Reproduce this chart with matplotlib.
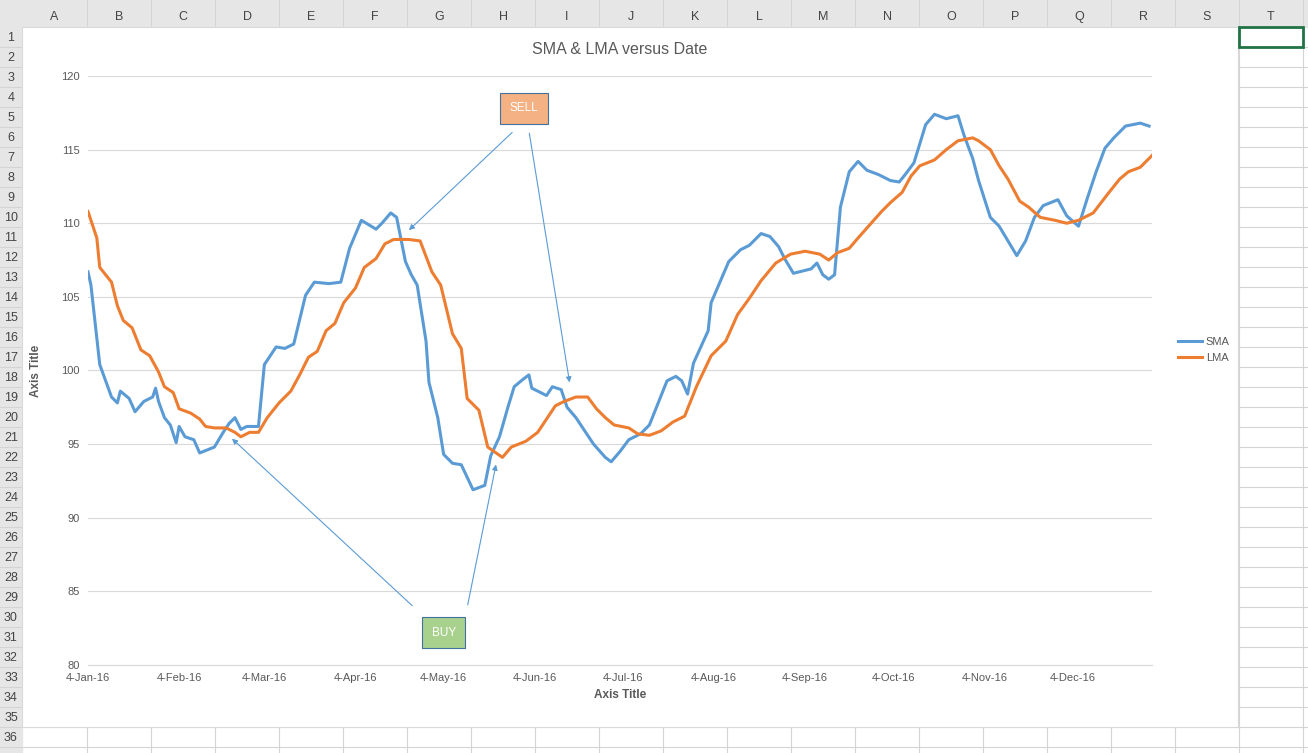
import matplotlib
matplotlib.use("Agg")
import matplotlib.pyplot as plt
from matplotlib.patches import Rectangle

plt.rcParams['font.family'] = ['Liberation Sans', 'DejaVu Sans']

title = "SMA & LMA versus Date"
month_labels = ["4-Jan-16", "4-Feb-16", "4-Mar-16", "4-Apr-16", "4-May-16", "4-Jun-16",
                "4-Jul-16", "4-Aug-16", "4-Sep-16", "4-Oct-16", "4-Nov-16", "4-Dec-16"]
month_days = [0, 31, 60, 91, 121, 152, 182, 213, 244, 274, 305, 335]  # days since 4-Jan-16

sma_days = [0,1,4,8,10,11,14,16,19,22,23,24,26,28,30,31,33,36,38,43,46,48,50,52,54,58,60,64,67,70,74,77,82,86,89,93,98,100,103,105,108,110,112,115,116,119,121,124,127,131,135,137,140,143,145,148,150,151,156,158,161,163,166,169,172,176,178,181,184,188,191,194,197,200,202,204,206,211,212,215,218,222,225,229,232,235,237,240,246,248,250,252,254,256,259,262,265,269,273,276,278,281,285,288,292,296,298,301,303,307,310,313,316,319,322,325,330,333,337,340,343,346,349,353,358,361]
sma_vals = [106.7,105.8,100.4,98.2,97.8,98.6,98.1,97.2,97.9,98.2,98.8,97.9,96.8,96.3,95.1,96.2,95.5,95.3,94.4,94.8,95.8,96.4,96.8,96.0,96.2,96.2,100.4,101.6,101.5,101.8,105.1,106.0,105.9,106.0,108.3,110.2,109.6,110.0,110.7,110.4,107.4,106.5,105.8,102.0,99.2,96.8,94.3,93.7,93.6,91.9,92.2,94.2,95.5,97.6,98.9,99.4,99.7,98.8,98.3,98.9,98.7,97.5,96.8,95.9,95.0,94.1,93.8,94.5,95.3,95.7,96.3,97.8,99.3,99.6,99.3,98.4,100.5,102.7,104.6,106.0,107.4,108.2,108.5,109.3,109.1,108.4,107.6,106.6,106.9,107.3,106.5,106.2,106.5,111.1,113.5,114.2,113.6,113.3,112.9,112.8,113.3,114.1,116.7,117.4,117.1,117.3,116.0,114.4,112.9,110.4,109.8,108.8,107.8,108.8,110.4,111.2,111.6,110.5,109.8,111.7,113.5,115.1,115.8,116.6,116.8,116.6]

lma_days = [0,3,4,8,10,12,15,18,21,24,26,29,31,35,38,40,43,47,50,52,55,58,61,65,69,72,75,78,81,84,87,91,94,98,101,104,109,113,117,120,124,127,129,133,136,141,144,149,153,156,159,162,166,170,173,176,179,184,187,191,195,199,203,207,212,217,221,225,229,234,239,244,249,252,255,259,262,266,270,273,277,280,283,288,292,296,301,303,307,310,313,317,320,324,329,333,337,342,347,351,354,358,362]
lma_vals = [110.8,109.0,107.0,106.0,104.4,103.4,102.9,101.4,101.0,99.9,98.9,98.5,97.4,97.1,96.7,96.2,96.1,96.1,95.8,95.5,95.8,95.8,96.8,97.8,98.6,99.7,100.9,101.3,102.7,103.2,104.6,105.6,107.0,107.6,108.6,108.9,108.9,108.8,106.7,105.8,102.5,101.5,98.1,97.3,94.8,94.1,94.8,95.2,95.8,96.7,97.6,97.9,98.2,98.2,97.4,96.8,96.3,96.1,95.7,95.6,95.9,96.5,96.9,98.9,101.0,102.0,103.8,104.9,106.1,107.3,107.9,108.1,107.9,107.5,108.0,108.3,109.0,109.9,110.8,111.4,112.1,113.2,113.9,114.3,115.0,115.6,115.8,115.6,115.0,113.9,113.0,111.5,111.1,110.4,110.2,110.0,110.2,110.7,112.0,113.0,113.5,113.8,114.6]

W, H = 1308, 753
fig = plt.figure(figsize=(W/100, H/100), dpi=100)

# spreadsheet background
bg = fig.add_axes([0, 0, 1, 1])
bg.set_xlim(0, W); bg.set_ylim(H, 0); bg.axis('off')
col_edges = [22] + [87 + 64*i for i in range(20)]
cols = "ABCDEFGHIJKLMNOPQRST"
bg.add_patch(Rectangle((0, 0), W, 27, color='#E6E6E6', zorder=0))
bg.add_patch(Rectangle((0, 0), 22, H, color='#E6E6E6', zorder=0))
for i, c in enumerate(cols):
    x0, x1 = col_edges[i], col_edges[i+1]
    bg.plot([x1, x1], [0, H], color='#D4D4D4', lw=0.8, zorder=1)
    bg.text((x0+x1)/2, 17, c, ha='center', va='center', fontsize=9, color='#444444')
for r in range(1, 38):
    y = 27 + 20*(r-1)
    bg.plot([0, W], [y+20, y+20], color='#D4D4D4', lw=0.8, zorder=1)
    if r <= 36:
        bg.text(11, y+11, str(r), ha='center', va='center', fontsize=9, color='#444444')
bg.add_patch(Rectangle((1239, 27), 64, 20, fill=False, ec='#217346', lw=2, zorder=5))
bg.add_patch(Rectangle((22, 27), 1216, 700, color='white', ec='#D9D9D9', lw=0.8, zorder=3))

# chart
ax = fig.add_axes([88/W, 1-665/H, (1152-88)/W, (665-76)/H])
ax.set_zorder(4)
ax.plot(sma_days, sma_vals, color='#5B9BD5', lw=2.2, label='SMA')
ax.plot(lma_days, lma_vals, color='#ED7D31', lw=2.2, label='LMA')
ax.set_xlim(0, 362)
ax.set_ylim(80, 120)
ax.set_yticks(range(80, 121, 5))
ax.set_xticks(month_days)
ax.set_xticklabels(month_labels)
ax.grid(axis='y', color='#D9D9D9', lw=0.8)
ax.set_axisbelow(True)
for s in ['top', 'right', 'left']:
    ax.spines[s].set_visible(False)
ax.spines['bottom'].set_color('#D9D9D9')
ax.tick_params(length=0, labelsize=8, colors='#595959', pad=6)
ax.set_xlabel('Axis Title', fontsize=8.5, color='#595959', fontweight='bold')
ax.set_ylabel('Axis Title', fontsize=8.5, color='#595959', fontweight='bold', labelpad=14)
ax.set_title(title, fontsize=11.5, color='#595959', pad=16)
ax.legend(loc='center left', bbox_to_anchor=(1.015, 0.535), frameon=False, fontsize=8,
          labelcolor='#595959', handlelength=2.2, handletextpad=0.3)

def box(x, y, txt, fc):
    ax.text(x, y, txt, ha='center', va='center', color='white', fontsize=8.5, zorder=6,
            bbox=dict(boxstyle='square,pad=0.8', fc=fc, ec='#41719C', lw=0.8), clip_on=False)

def arrow(x0, y0, x1, y1):
    ax.annotate('', xy=(x1, y1), xytext=(x0, y0), annotation_clip=False,
                arrowprops=dict(arrowstyle='-|>', color='#5B9BD5', lw=0.8, mutation_scale=8))

arrow(145, 116.3, 108.5, 109.4)
arrow(150, 116.3, 164, 99.0)
arrow(111, 83.9, 48.3, 95.5)
arrow(129, 83.9, 139, 93.8)
box(148.3, 117.8, 'SELL', '#F4B183')
box(121, 82.2, 'BUY', '#A9D18E')

fig.savefig('out.png', dpi=100)
